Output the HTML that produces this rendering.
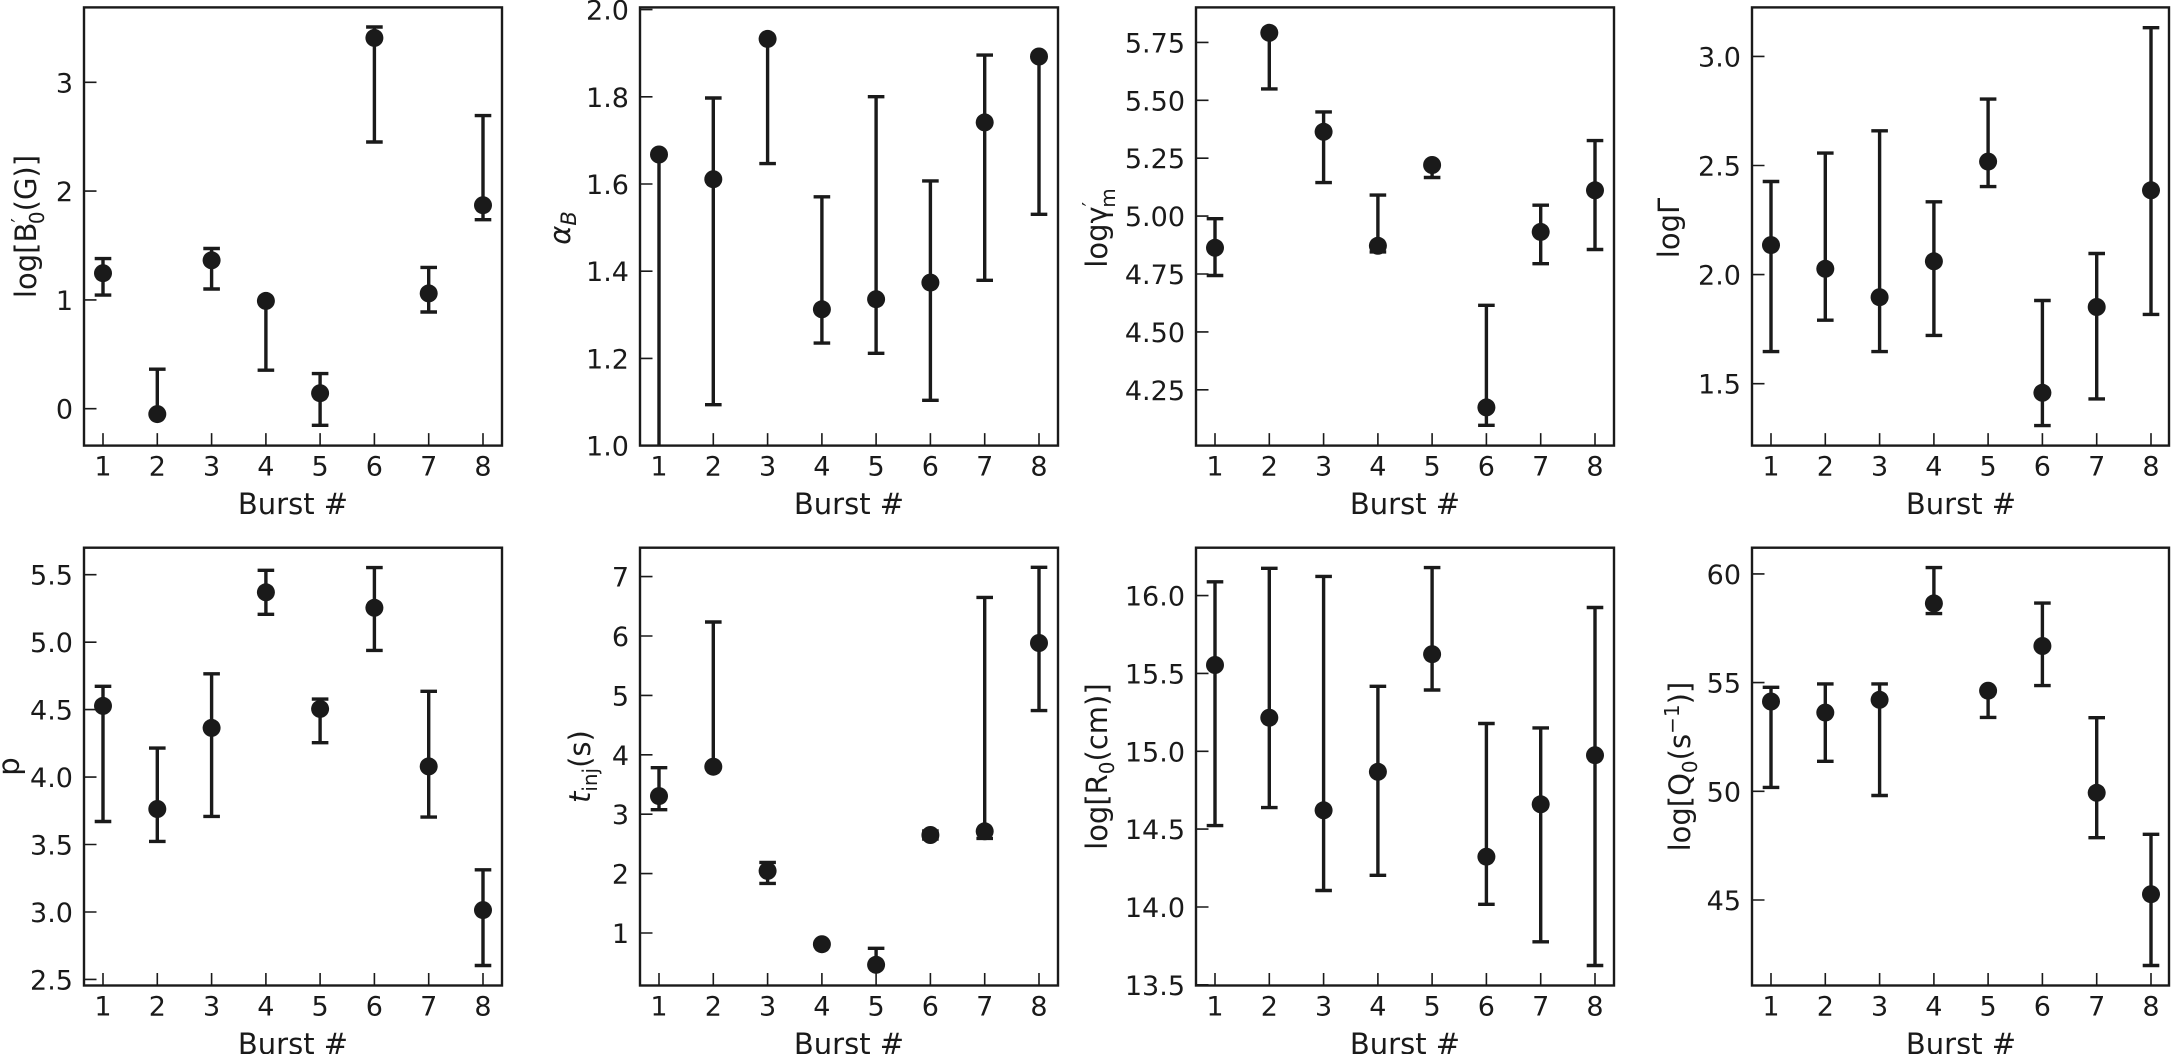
<!DOCTYPE html>
<html><head><meta charset="utf-8"><style>
html,body{margin:0;padding:0;background:#fff;}
svg{display:block;}
text{font-family:"DejaVu Sans","Liberation Sans",sans-serif;fill:#1a1a1a;}
.t{font-size:27px;}
.lab{font-size:29px;}
.xl{text-anchor:middle;}
.yl{text-anchor:end;}
.fr{fill:none;stroke:#1a1a1a;stroke-width:2.4;}
.tk{stroke:#1a1a1a;stroke-width:1.6;}
.eb{stroke:#1a1a1a;stroke-width:3.4;fill:none;}
.mk{fill:#1a1a1a;}
</style></head><body>
<svg width="2171" height="1054" viewBox="0 0 2171 1054" xmlns="http://www.w3.org/2000/svg">
<defs>
<g id="xt">
<path class="tk" d="M19 0v-12.5M73.3 0v-12.5M127.6 0v-12.5M181.9 0v-12.5M236.1 0v-12.5M290.4 0v-12.5M344.7 0v-12.5M399 0v-12.5"/>
</g>
</defs>

<!-- Panel 1 -->
<g transform="translate(84,0)">
<rect class="fr" x="0" y="7.4" width="418" height="438.2"/>
<use href="#xt" transform="translate(0,445.6)"/>
<g class="t xl"><text x="19" y="475.6">1</text><text x="73.3" y="475.6">2</text><text x="127.6" y="475.6">3</text><text x="181.9" y="475.6">4</text><text x="236.1" y="475.6">5</text><text x="290.4" y="475.6">6</text><text x="344.7" y="475.6">7</text><text x="399" y="475.6">8</text></g>
<text class="lab xl" x="209" y="514">Burst #</text>
<path class="tk" d="M0 408.7h12.5M0 299.9h12.5M0 191.1h12.5M0 82.3h12.5"/>
<g class="t yl"><text x="-11" y="418.7">0</text><text x="-11" y="309.9">1</text><text x="-11" y="201.1">2</text><text x="-11" y="92.3">3</text></g>
<text class="lab xl" transform="translate(-48,226.5) rotate(-90)">log[B<tspan font-size="20" dy="-10">′</tspan><tspan font-size="20" dx="-6" dy="18">0</tspan><tspan dy="-8">(G)]</tspan></text>
<path class="eb" d="M19 258.6V295.1M10.7 258.6h16.6M10.7 295.1h16.6 M73.3 369.2V414.1M65 369.2h16.6 M127.6 248.5V289M119.3 248.5h16.6M119.3 289h16.6 M181.9 300.9V370.2M173.6 370.2h16.6 M236.1 373.6V425.3M227.8 373.6h16.6M227.8 425.3h16.6 M290.4 27V142M282.1 27h16.6M282.1 142h16.6 M344.7 267.4V312M336.4 267.4h16.6M336.4 312h16.6 M399 115.6V219.7M390.7 115.6h16.6M390.7 219.7h16.6"/>
<g class="mk"><circle cx="19" cy="273.2" r="9"/><circle cx="73.3" cy="414.1" r="9"/><circle cx="127.6" cy="260.3" r="9"/><circle cx="181.9" cy="300.9" r="9"/><circle cx="236.1" cy="393.2" r="9"/><circle cx="290.4" cy="37.9" r="9"/><circle cx="344.7" cy="293.4" r="9"/><circle cx="399" cy="205.2" r="9"/></g>
</g>

<!-- Panel 2 -->
<g transform="translate(640,0)">
<rect class="fr" x="0" y="7.4" width="418" height="438.2"/>
<use href="#xt" transform="translate(0,445.6)"/>
<g class="t xl"><text x="19" y="475.6">1</text><text x="73.3" y="475.6">2</text><text x="127.6" y="475.6">3</text><text x="181.9" y="475.6">4</text><text x="236.1" y="475.6">5</text><text x="290.4" y="475.6">6</text><text x="344.7" y="475.6">7</text><text x="399" y="475.6">8</text></g>
<text class="lab xl" x="209" y="514">Burst #</text>
<path class="tk" d="M0 445.6h12.5M0 358.4h12.5M0 271.2h12.5M0 184h12.5M0 96.8h12.5M0 9.6h12.5"/>
<g class="t yl"><text x="-11" y="455.6">1.0</text><text x="-11" y="368.4">1.2</text><text x="-11" y="281.2">1.4</text><text x="-11" y="194">1.6</text><text x="-11" y="106.8">1.8</text><text x="-11" y="19.6">2.0</text></g>
<text class="lab xl" transform="translate(-70,228) rotate(-90)"><tspan font-style="italic">α</tspan><tspan font-style="italic" font-size="21" dy="6">B</tspan></text>
<path class="eb" d="M19 154.5V445.6 M73.3 98V404.7M65 98h16.6M65 404.7h16.6 M127.6 38.9V163.6M119.3 163.6h16.6 M181.9 196.8V343.1M173.6 196.8h16.6M173.6 343.1h16.6 M236.1 96.7V353.3M227.8 96.7h16.6M227.8 353.3h16.6 M290.4 180.9V400.3M282.1 180.9h16.6M282.1 400.3h16.6 M344.7 55.1V280.3M336.4 55.1h16.6M336.4 280.3h16.6 M399 56.5V214.3M390.7 214.3h16.6"/>
<g class="mk"><circle cx="19" cy="154.5" r="9"/><circle cx="73.3" cy="179.2" r="9"/><circle cx="127.6" cy="38.9" r="9"/><circle cx="181.9" cy="309.3" r="9"/><circle cx="236.1" cy="299.2" r="9"/><circle cx="290.4" cy="282.6" r="9"/><circle cx="344.7" cy="122.4" r="9"/><circle cx="399" cy="56.5" r="9"/></g>
</g>

<!-- Panel 3 -->
<g transform="translate(1196,0)">
<rect class="fr" x="0" y="7.4" width="418" height="438.2"/>
<use href="#xt" transform="translate(0,445.6)"/>
<g class="t xl"><text x="19" y="475.6">1</text><text x="73.3" y="475.6">2</text><text x="127.6" y="475.6">3</text><text x="181.9" y="475.6">4</text><text x="236.1" y="475.6">5</text><text x="290.4" y="475.6">6</text><text x="344.7" y="475.6">7</text><text x="399" y="475.6">8</text></g>
<text class="lab xl" x="209" y="514">Burst #</text>
<path class="tk" d="M0 389.8h12.5M0 331.9h12.5M0 274h12.5M0 216.1h12.5M0 158.2h12.5M0 100.3h12.5M0 42.4h12.5"/>
<g class="t yl"><text x="-11" y="399.8">4.25</text><text x="-11" y="341.9">4.50</text><text x="-11" y="284">4.75</text><text x="-11" y="226.1">5.00</text><text x="-11" y="168.2">5.25</text><text x="-11" y="110.3">5.50</text><text x="-11" y="52.4">5.75</text></g>
<text class="lab xl" transform="translate(-89,228) rotate(-90)">logγ<tspan font-size="20" dy="-10">′</tspan><tspan font-size="20" dx="-6" dy="18">m</tspan></text>
<path class="eb" d="M19 218.7V275.5M10.7 218.7h16.6M10.7 275.5h16.6 M73.3 32.8V88.9M65 88.9h16.6 M127.6 111.9V182.6M119.3 111.9h16.6M119.3 182.6h16.6 M181.9 195.1V251.9M173.6 195.1h16.6M173.6 251.9h16.6 M236.1 165V177.5M227.8 177.5h16.6 M290.4 305.3V425.3M282.1 305.3h16.6M282.1 425.3h16.6 M344.7 205.2V263.7M336.4 205.2h16.6M336.4 263.7h16.6 M399 140.6V249.5M390.7 140.6h16.6M390.7 249.5h16.6"/>
<g class="mk"><circle cx="19" cy="247.8" r="9"/><circle cx="73.3" cy="32.8" r="9"/><circle cx="127.6" cy="131.8" r="9"/><circle cx="181.9" cy="245.8" r="9"/><circle cx="236.1" cy="165" r="9"/><circle cx="290.4" cy="407.4" r="9"/><circle cx="344.7" cy="231.9" r="9"/><circle cx="399" cy="190.3" r="9"/></g>
</g>

<!-- Panel 4 -->
<g transform="translate(1752,0)">
<rect class="fr" x="0" y="7.4" width="417" height="438.2"/>
<use href="#xt" transform="translate(0,445.6)"/>
<g class="t xl"><text x="19" y="475.6">1</text><text x="73.3" y="475.6">2</text><text x="127.6" y="475.6">3</text><text x="181.9" y="475.6">4</text><text x="236.1" y="475.6">5</text><text x="290.4" y="475.6">6</text><text x="344.7" y="475.6">7</text><text x="399" y="475.6">8</text></g>
<text class="lab xl" x="209" y="514">Burst #</text>
<path class="tk" d="M0 383.7h12.5M0 274.6h12.5M0 165.5h12.5M0 56.4h12.5"/>
<g class="t yl"><text x="-11" y="393.7">1.5</text><text x="-11" y="284.6">2.0</text><text x="-11" y="175.5">2.5</text><text x="-11" y="66.4">3.0</text></g>
<text class="lab xl" transform="translate(-73,228) rotate(-90)">logΓ</text>
<path class="eb" d="M19 181.5V351.6M10.7 181.5h16.6M10.7 351.6h16.6 M73.3 153.1V320.2M65 153.1h16.6M65 320.2h16.6 M127.6 130.8V351.6M119.3 130.8h16.6M119.3 351.6h16.6 M181.9 201.8V335.4M173.6 201.8h16.6M173.6 335.4h16.6 M236.1 99.1V186.6M227.8 99.1h16.6M227.8 186.6h16.6 M290.4 300.5V425.6M282.1 300.5h16.6M282.1 425.6h16.6 M344.7 253.5V398.9M336.4 253.5h16.6M336.4 398.9h16.6 M399 27.7V314.4M390.7 27.7h16.6M390.7 314.4h16.6"/>
<g class="mk"><circle cx="19" cy="245.1" r="9"/><circle cx="73.3" cy="268.8" r="9"/><circle cx="127.6" cy="297.2" r="9"/><circle cx="181.9" cy="261.3" r="9"/><circle cx="236.1" cy="161.6" r="9"/><circle cx="290.4" cy="392.8" r="9"/><circle cx="344.7" cy="307" r="9"/><circle cx="399" cy="190.3" r="9"/></g>
</g>

<!-- Panel 5 -->
<g transform="translate(84,524)">
<rect class="fr" x="0" y="23.7" width="418" height="437.8"/>
<use href="#xt" transform="translate(0,461.5)"/>
<g class="t xl"><text x="19" y="491.5">1</text><text x="73.3" y="491.5">2</text><text x="127.6" y="491.5">3</text><text x="181.9" y="491.5">4</text><text x="236.1" y="491.5">5</text><text x="290.4" y="491.5">6</text><text x="344.7" y="491.5">7</text><text x="399" y="491.5">8</text></g>
<text class="lab xl" x="209" y="530">Burst #</text>
<path class="tk" d="M0 455.4h12.5M0 388h12.5M0 320.5h12.5M0 253.1h12.5M0 185.6h12.5M0 118.2h12.5M0 50.7h12.5"/>
<g class="t yl"><text x="-11" y="465.4">2.5</text><text x="-11" y="398">3.0</text><text x="-11" y="330.5">3.5</text><text x="-11" y="263.1">4.0</text><text x="-11" y="195.6">4.5</text><text x="-11" y="128.2">5.0</text><text x="-11" y="60.7">5.5</text></g>
<text class="lab xl" transform="translate(-65,242.6) rotate(-90)">p</text>
<path class="eb" d="M19 162.3V297.5M10.7 162.3h16.6M10.7 297.5h16.6 M73.3 224.1V317.4M65 224.1h16.6M65 317.4h16.6 M127.6 149.8V292.4M119.3 149.8h16.6M119.3 292.4h16.6 M181.9 46.3V90.3M173.6 46.3h16.6M173.6 90.3h16.6 M236.1 175.1V218.7M227.8 175.1h16.6M227.8 218.7h16.6 M290.4 43.6V126.4M282.1 43.6h16.6M282.1 126.4h16.6 M344.7 167.3V293.1M336.4 167.3h16.6M336.4 293.1h16.6 M399 345.8V441.5M390.7 345.8h16.6M390.7 441.5h16.6"/>
<g class="mk"><circle cx="19" cy="181.9" r="9"/><circle cx="73.3" cy="285" r="9"/><circle cx="127.6" cy="203.9" r="9"/><circle cx="181.9" cy="68.3" r="9"/><circle cx="236.1" cy="184.9" r="9"/><circle cx="290.4" cy="83.8" r="9"/><circle cx="344.7" cy="242.4" r="9"/><circle cx="399" cy="386.1" r="9"/></g>
</g>

<!-- Panel 6 -->
<g transform="translate(640,524)">
<rect class="fr" x="0" y="23.7" width="418" height="437.8"/>
<use href="#xt" transform="translate(0,461.5)"/>
<g class="t xl"><text x="19" y="491.5">1</text><text x="73.3" y="491.5">2</text><text x="127.6" y="491.5">3</text><text x="181.9" y="491.5">4</text><text x="236.1" y="491.5">5</text><text x="290.4" y="491.5">6</text><text x="344.7" y="491.5">7</text><text x="399" y="491.5">8</text></g>
<text class="lab xl" x="209" y="530">Burst #</text>
<path class="tk" d="M0 409h12.5M0 349.6h12.5M0 290.2h12.5M0 230.8h12.5M0 171.4h12.5M0 112h12.5M0 52.6h12.5"/>
<g class="t yl"><text x="-11" y="419">1</text><text x="-11" y="359.6">2</text><text x="-11" y="300.2">3</text><text x="-11" y="240.8">4</text><text x="-11" y="181.4">5</text><text x="-11" y="122">6</text><text x="-11" y="62.6">7</text></g>
<text class="lab xl" transform="translate(-50,242.6) rotate(-90)"><tspan font-style="italic">t</tspan><tspan font-size="20" dy="7">inj</tspan><tspan dy="-7">(s)</tspan></text>
<path class="eb" d="M19 243.7V285.7M10.7 243.7h16.6M10.7 285.7h16.6 M73.3 98V242.7M65 98h16.6 M127.6 338.4V359.4M119.3 338.4h16.6M119.3 359.4h16.6 M236.1 424.3V440.8M227.8 424.3h16.6 M290.4 307V315M282.1 307h16.6M282.1 315h16.6 M344.7 73.4V314.4M336.4 73.4h16.6M336.4 314.4h16.6 M399 43.3V186.6M390.7 43.3h16.6M390.7 186.6h16.6"/>
<g class="mk"><circle cx="19" cy="272.1" r="9"/><circle cx="73.3" cy="242.7" r="9"/><circle cx="127.6" cy="346.9" r="9"/><circle cx="181.9" cy="420.2" r="9"/><circle cx="236.1" cy="440.8" r="9"/><circle cx="290.4" cy="311" r="9"/><circle cx="344.7" cy="307.3" r="9"/><circle cx="399" cy="119" r="9"/></g>
</g>

<!-- Panel 7 -->
<g transform="translate(1196,524)">
<rect class="fr" x="0" y="23.7" width="418" height="437.8"/>
<use href="#xt" transform="translate(0,461.5)"/>
<g class="t xl"><text x="19" y="491.5">1</text><text x="73.3" y="491.5">2</text><text x="127.6" y="491.5">3</text><text x="181.9" y="491.5">4</text><text x="236.1" y="491.5">5</text><text x="290.4" y="491.5">6</text><text x="344.7" y="491.5">7</text><text x="399" y="491.5">8</text></g>
<text class="lab xl" x="209" y="530">Burst #</text>
<path class="tk" d="M0 460.8h12.5M0 383h12.5M0 305.1h12.5M0 227.3h12.5M0 149.4h12.5M0 71.6h12.5"/>
<g class="t yl"><text x="-11" y="470.8">13.5</text><text x="-11" y="393">14.0</text><text x="-11" y="315.1">14.5</text><text x="-11" y="237.3">15.0</text><text x="-11" y="159.4">15.5</text><text x="-11" y="81.6">16.0</text></g>
<text class="lab xl" transform="translate(-89,242.6) rotate(-90)">log[R<tspan font-size="20" dy="7">0</tspan><tspan dy="-7">(cm)]</tspan></text>
<path class="eb" d="M19 57.8V301.6M10.7 57.8h16.6M10.7 301.6h16.6 M73.3 44.3V283.6M65 44.3h16.6M65 283.6h16.6 M127.6 52.4V366.5M119.3 52.4h16.6M119.3 366.5h16.6 M181.9 162.3V351.3M173.6 162.3h16.6M173.6 351.3h16.6 M236.1 43.6V166M227.8 43.6h16.6M227.8 166h16.6 M290.4 199.5V380.3M282.1 199.5h16.6M282.1 380.3h16.6 M344.7 203.9V417.8M336.4 203.9h16.6M336.4 417.8h16.6 M399 83.5V441.5M390.7 83.5h16.6M390.7 441.5h16.6"/>
<g class="mk"><circle cx="19" cy="141" r="9"/><circle cx="73.3" cy="193.7" r="9"/><circle cx="127.6" cy="286.3" r="9"/><circle cx="181.9" cy="247.8" r="9"/><circle cx="236.1" cy="130.2" r="9"/><circle cx="290.4" cy="332.7" r="9"/><circle cx="344.7" cy="280.3" r="9"/><circle cx="399" cy="231.2" r="9"/></g>
</g>

<!-- Panel 8 -->
<g transform="translate(1752,524)">
<rect class="fr" x="0" y="23.7" width="417" height="437.8"/>
<use href="#xt" transform="translate(0,461.5)"/>
<g class="t xl"><text x="19" y="491.5">1</text><text x="73.3" y="491.5">2</text><text x="127.6" y="491.5">3</text><text x="181.9" y="491.5">4</text><text x="236.1" y="491.5">5</text><text x="290.4" y="491.5">6</text><text x="344.7" y="491.5">7</text><text x="399" y="491.5">8</text></g>
<text class="lab xl" x="209" y="530">Burst #</text>
<path class="tk" d="M0 376h12.5M0 267.3h12.5M0 158.6h12.5M0 49.9h12.5"/>
<g class="t yl"><text x="-11" y="386">45</text><text x="-11" y="277.3">50</text><text x="-11" y="168.6">55</text><text x="-11" y="59.9">60</text></g>
<text class="lab xl" transform="translate(-62,242.6) rotate(-90)">log[Q<tspan font-size="20" dy="7">0</tspan><tspan dy="-7">(s</tspan><tspan font-size="20" dy="-11">−1</tspan><tspan dy="11">)]</tspan></text>
<path class="eb" d="M19 163.3V263.4M10.7 163.3h16.6M10.7 263.4h16.6 M73.3 159.9V237.3M65 159.9h16.6M65 237.3h16.6 M127.6 159.9V271.5M119.3 159.9h16.6M119.3 271.5h16.6 M181.9 43.6V89.6M173.6 43.6h16.6M173.6 89.6h16.6 M236.1 166.7V193.4M227.8 193.4h16.6 M290.4 79.1V161.6M282.1 79.1h16.6M282.1 161.6h16.6 M344.7 193.7V313.7M336.4 193.7h16.6M336.4 313.7h16.6 M399 310.3V441.5M390.7 310.3h16.6M390.7 441.5h16.6"/>
<g class="mk"><circle cx="19" cy="177.5" r="9"/><circle cx="73.3" cy="188.6" r="9"/><circle cx="127.6" cy="175.8" r="9"/><circle cx="181.9" cy="79.4" r="9"/><circle cx="236.1" cy="166.7" r="9"/><circle cx="290.4" cy="122" r="9"/><circle cx="344.7" cy="268.8" r="9"/><circle cx="399" cy="370.2" r="9"/></g>
</g>
</svg>
</body></html>
